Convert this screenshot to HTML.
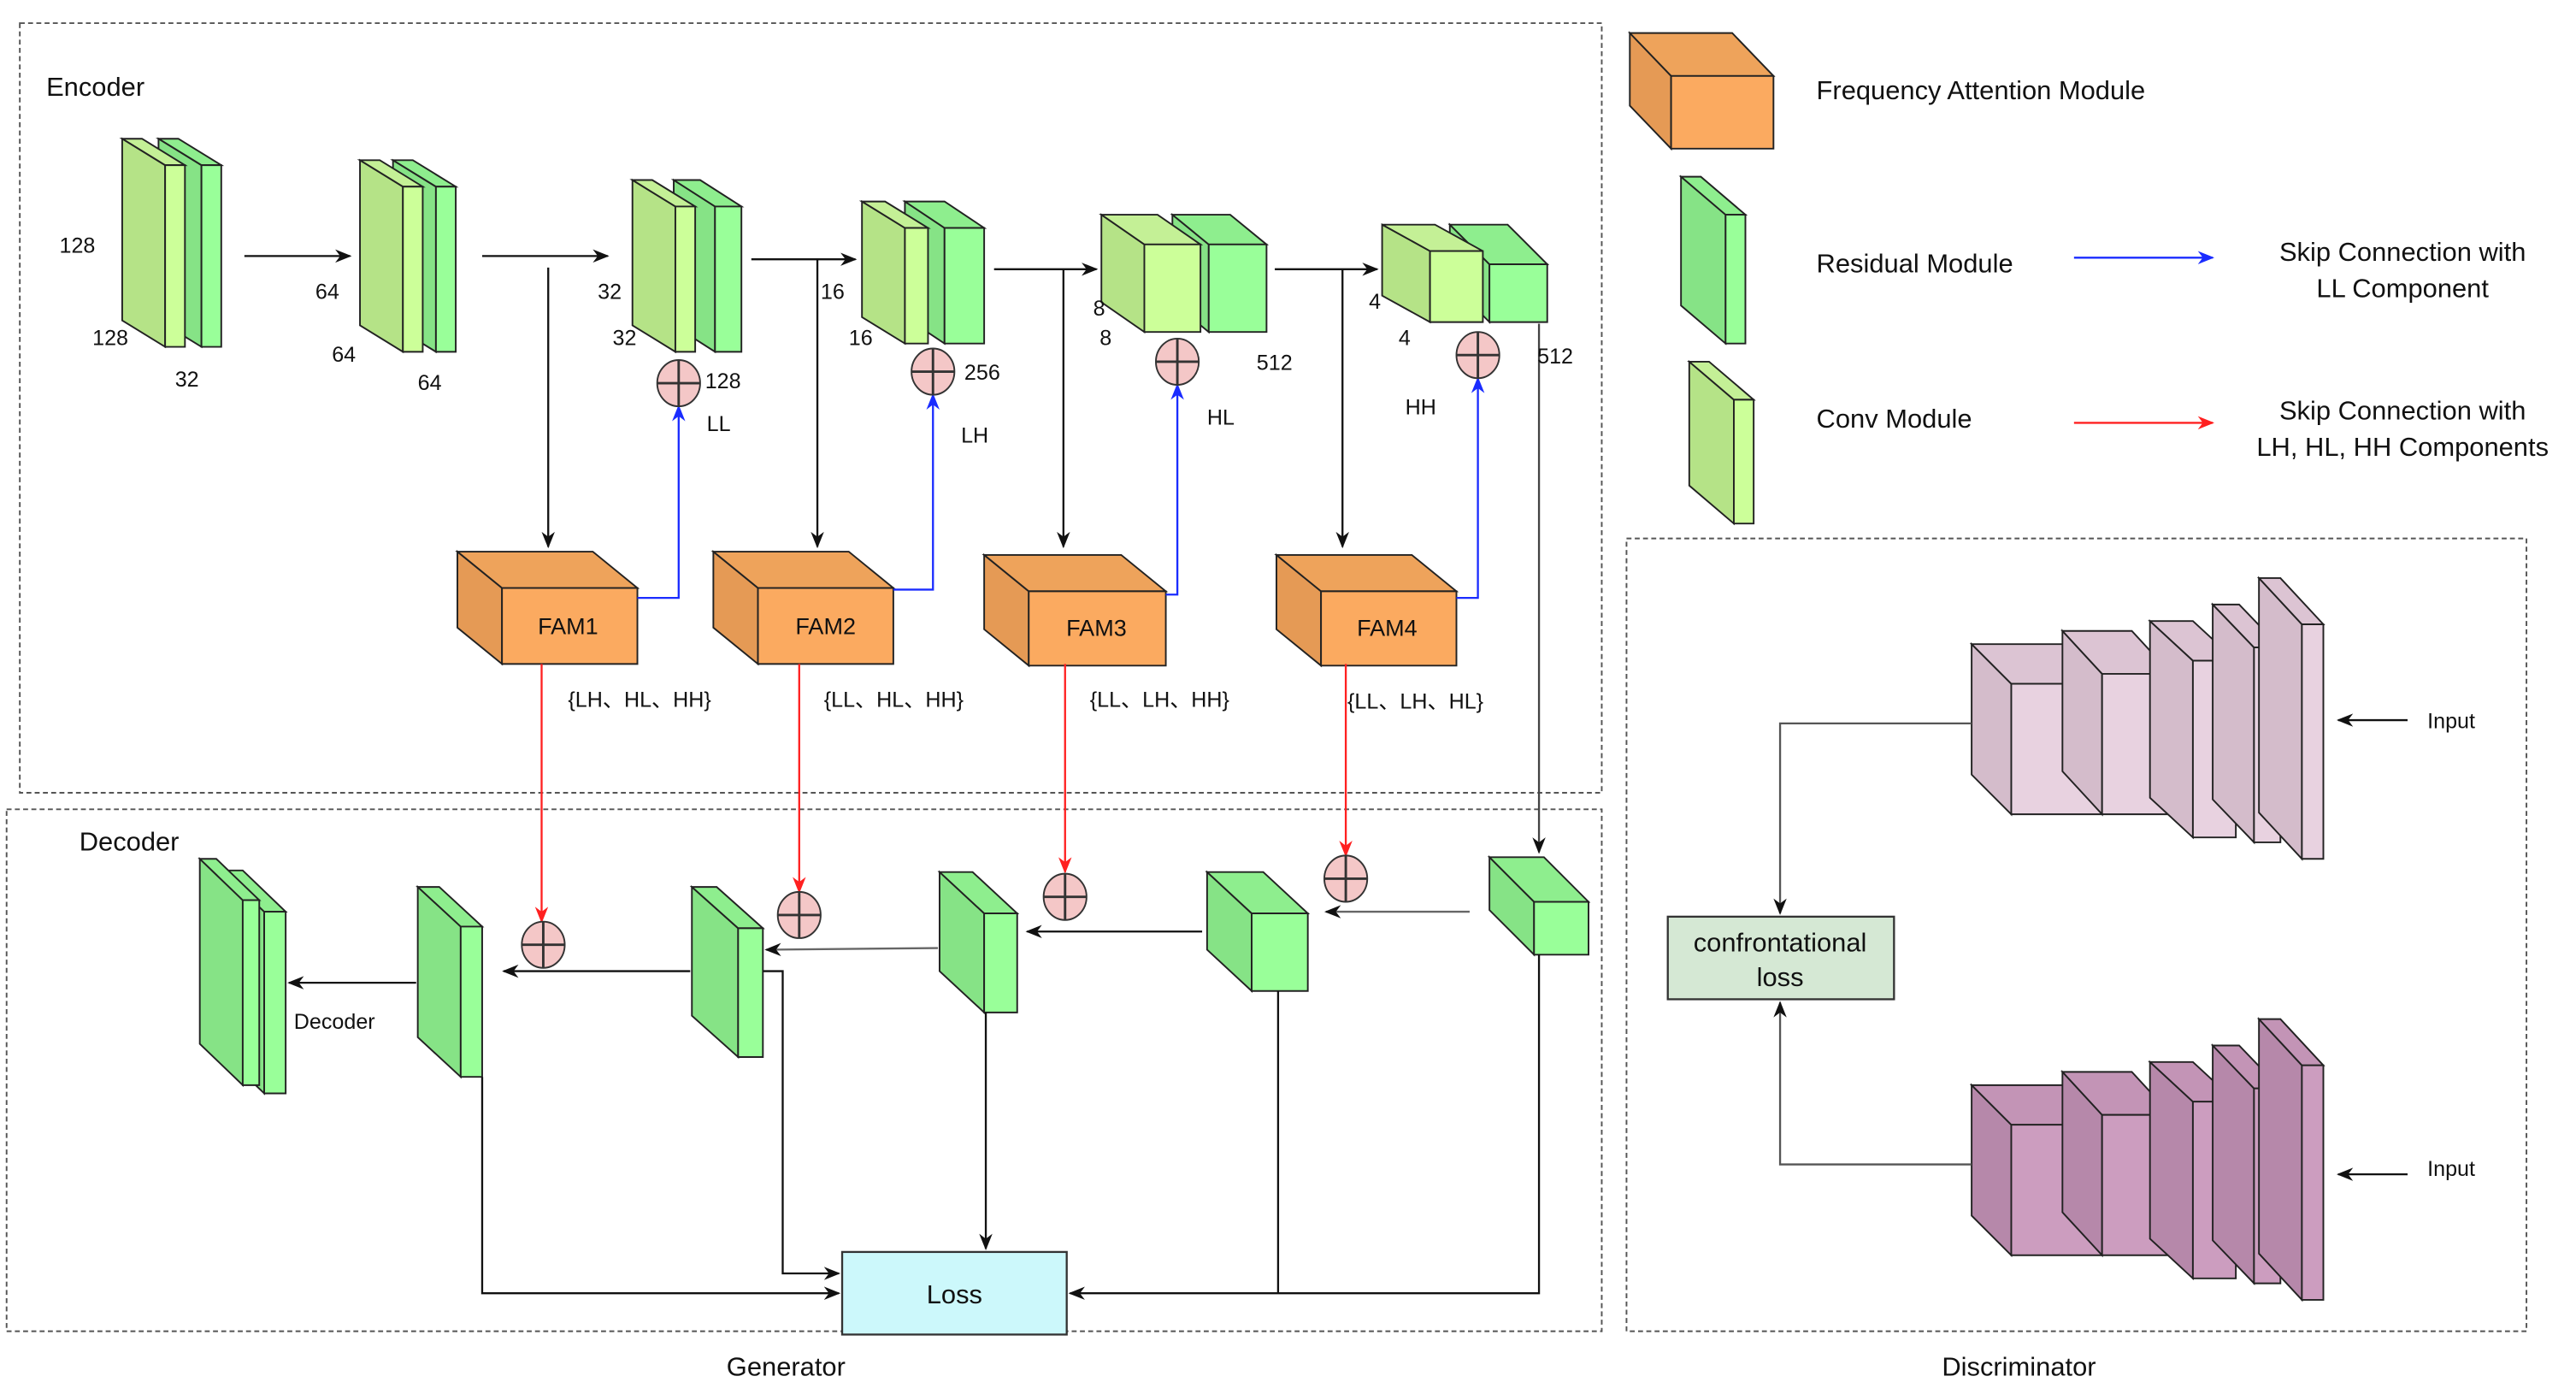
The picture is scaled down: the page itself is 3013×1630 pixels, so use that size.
<!DOCTYPE html>
<html><head><meta charset="utf-8"><style>
html,body{margin:0;padding:0;background:#fff;}
svg{display:block;}
text{font-family:"Liberation Sans",Arial,sans-serif;fill:#111;}
</style></head><body>
<svg id="s" width="3013" height="1630" viewBox="0 0 1560 844" preserveAspectRatio="none" xmlns="http://www.w3.org/2000/svg">
<defs>
<marker id="ak" markerWidth="10" markerHeight="10" refX="9" refY="5" orient="auto" markerUnits="userSpaceOnUse"><path d="M0,1 L10,5 L0,9 L3,5 Z" fill="#111"/></marker>
<marker id="ab" markerWidth="10" markerHeight="10" refX="9" refY="5" orient="auto" markerUnits="userSpaceOnUse"><path d="M0,1 L10,5 L0,9 L3,5 Z" fill="#1a2cff"/></marker>
<marker id="ar" markerWidth="10" markerHeight="10" refX="9" refY="5" orient="auto" markerUnits="userSpaceOnUse"><path d="M0,1 L10,5 L0,9 L3,5 Z" fill="#ff2020"/></marker>
</defs>
<g fill="none" stroke="#555" stroke-width="1" stroke-dasharray="3,2">
<rect x="12" y="14" width="958" height="466"/>
<rect x="4" y="490" width="966" height="316"/>
<rect x="985" y="326" width="545" height="480"/>
</g>
<g id="cubes"></g>
<g stroke="#111" stroke-width="1.2" fill="none">
<line x1="148" y1="155" x2="212" y2="155" marker-end="url(#ak)"/>
<line x1="292" y1="155" x2="368" y2="155" marker-end="url(#ak)"/>
<line x1="455" y1="157" x2="518" y2="157" marker-end="url(#ak)"/>
<line x1="602" y1="163" x2="664" y2="163" marker-end="url(#ak)"/>
<line x1="772" y1="163" x2="834" y2="163" marker-end="url(#ak)"/>
<line x1="332" y1="162" x2="332" y2="331" marker-end="url(#ak)"/>
<line x1="495" y1="157" x2="495" y2="331" marker-end="url(#ak)"/>
<line x1="644" y1="163" x2="644" y2="331" marker-end="url(#ak)"/>
<line x1="813" y1="163" x2="813" y2="331" marker-end="url(#ak)"/>
<line x1="932" y1="196" x2="932" y2="516" stroke="#444" marker-end="url(#ak)"/>
<line x1="890" y1="552" x2="803" y2="552" stroke="#666" marker-end="url(#ak)"/>
<line x1="728" y1="564" x2="622" y2="564" marker-end="url(#ak)"/>
<line x1="568" y1="574" x2="464" y2="575" stroke="#666" marker-end="url(#ak)"/>
<line x1="418" y1="588" x2="305" y2="588" marker-end="url(#ak)"/>
<line x1="252" y1="595" x2="175" y2="595" marker-end="url(#ak)"/>
<polyline points="292,652 292,783 508,783" marker-end="url(#ak)"/>
<polyline points="462,588 474,588 474,771 508,771" marker-end="url(#ak)"/>
<line x1="597" y1="613" x2="597" y2="756" marker-end="url(#ak)"/>
<line x1="774" y1="600" x2="774" y2="783"/>
<polyline points="932,578 932,783 648,783" marker-end="url(#ak)"/>
<polyline points="1194,438 1078,438 1078,553" stroke="#555" marker-end="url(#ak)"/>
<polyline points="1194,705 1078,705 1078,607" stroke="#555" marker-end="url(#ak)"/>
<line x1="1458" y1="436" x2="1416" y2="436" marker-end="url(#ak)"/>
<line x1="1458" y1="711" x2="1416" y2="711" marker-end="url(#ak)"/>
</g>
<g stroke="#1a2cff" stroke-width="1.2" fill="none">
<polyline points="386,362 411,362 411,246" marker-end="url(#ab)"/>
<polyline points="541,357 565,357 565,239" marker-end="url(#ab)"/>
<polyline points="706,360 713,360 713,233" marker-end="url(#ab)"/>
<polyline points="882,362 895,362 895,229" marker-end="url(#ab)"/>
<line x1="1256" y1="156" x2="1340" y2="156" marker-end="url(#ab)"/>
</g>
<g stroke="#ff2020" stroke-width="1.2" fill="none">
<line x1="328" y1="402" x2="328" y2="558" marker-end="url(#ar)"/>
<line x1="484" y1="402" x2="484" y2="540" marker-end="url(#ar)"/>
<line x1="645" y1="402" x2="645" y2="528" marker-end="url(#ar)"/>
<line x1="815" y1="402" x2="815" y2="518" marker-end="url(#ar)"/>
<line x1="1256" y1="256" x2="1340" y2="256" marker-end="url(#ar)"/>
</g>
<g id="plus"></g>
<rect x="510" y="758" width="136" height="50" fill="#ccf8fb" stroke="#333" stroke-width="1.2"/>
<text x="578" y="789" font-size="16" text-anchor="middle">Loss</text>
<rect x="1010" y="555" width="137" height="50" fill="#d5e8d4" stroke="#333" stroke-width="1.2"/>
<text x="1078" y="576" font-size="16" text-anchor="middle">confrontational</text>
<text x="1078" y="597" font-size="16" text-anchor="middle">loss</text>
<g font-size="14" text-anchor="middle">
<text x="344" y="384">FAM1</text><text x="500" y="384">FAM2</text><text x="664" y="385">FAM3</text><text x="840" y="385">FAM4</text>
</g>
<g font-size="13">
<text x="36" y="153">128</text><text x="56" y="209">128</text><text x="106" y="234">32</text>
<text x="191" y="181">64</text><text x="201" y="219">64</text><text x="253" y="236">64</text>
<text x="362" y="181">32</text><text x="371" y="209">32</text><text x="427" y="235">128</text><text x="428" y="261">LL</text>
<text x="497" y="181">16</text><text x="514" y="209">16</text><text x="584" y="230">256</text><text x="582" y="268">LH</text>
<text x="662" y="191">8</text><text x="666" y="209">8</text><text x="761" y="224">512</text><text x="731" y="257">HL</text>
<text x="829" y="187">4</text><text x="847" y="209">4</text><text x="931" y="220">512</text><text x="851" y="251">HH</text>
<text x="344" y="428">{LH、HL、HH}</text><text x="499" y="428">{LL、HL、HH}</text>
<text x="660" y="428">{LL、LH、HH}</text><text x="816" y="429">{LL、LH、HL}</text>
<text x="178" y="623">Decoder</text>
<text x="1470" y="441">Input</text><text x="1470" y="712">Input</text>
</g>
<g font-size="16">
<text x="28" y="58">Encoder</text><text x="48" y="515">Decoder</text>
<text x="440" y="833">Generator</text><text x="1176" y="833">Discriminator</text>
<text x="1100" y="60">Frequency Attention Module</text>
<text x="1100" y="165">Residual Module</text>
<text x="1100" y="259">Conv Module</text>
<text x="1455" y="158" text-anchor="middle">Skip Connection with</text>
<text x="1455" y="180" text-anchor="middle">LL Component</text>
<text x="1455" y="254" text-anchor="middle">Skip Connection with</text>
<text x="1455" y="276" text-anchor="middle">LH, HL, HH Components</text>
</g>
</svg>
<script>
var NS="http://www.w3.org/2000/svg";
function poly(g,pts,fill){var p=document.createElementNS(NS,"polygon");p.setAttribute("points",pts.map(function(a){return a.join(",")}).join(" "));p.setAttribute("fill",fill);p.setAttribute("stroke","#222");p.setAttribute("stroke-width","1");g.appendChild(p);}
function cube(x,y,w,h,dx,dy,front,side,top){var g=document.getElementById("cubes");
poly(g,[[x-dx,y-dy],[x,y],[x,y+h],[x-dx,y+h-dy]],side);
poly(g,[[x-dx,y-dy],[x+w-dx,y-dy],[x+w,y],[x,y]],top||side);
poly(g,[[x,y],[x+w,y],[x+w,y+h],[x,y+h]],front);}
var LG=["#ccff99","#b5e387","#c4f096"], G=["#99ff99","#86e386","#8eee8e"], O=["#fbaa60","#e59a55","#eea35b"];
function lg(x,y,w,h,dx,dy){cube(x,y,w,h,dx,dy,LG[0],LG[1],LG[2]);}
function gr(x,y,w,h,dx,dy){cube(x,y,w,h,dx,dy,G[0],G[1],G[2]);}
function fam(x,y,w,h){cube(x,y,w,h,27,22,O[0],O[1],O[2]);}
gr(122,100,12,110,26,16); lg(100,100,12,110,26,16);
gr(264,113,12,100,26,16); lg(244,113,12,100,26,16);
gr(433,125,16,88,25,16); lg(409,125,12,88,26,16);
gr(572,138,24,70,24,16); lg(548,138,14,70,26,16);
gr(732,148,35,53,22,18); lg(693,148,34,53,26,18);
gr(902,160,35,35,24,24); lg(866,152,32,43,29,16);
fam(304,356,82,46); fam(459,356,82,46); fam(623,358,83,45); fam(800,358,82,45);
gr(160,552,13,110,26,25); gr(147,545,10,112,26,25);
gr(279,561,13,91,26,24); gr(447,562,15,78,28,25); gr(596,553,20,60,27,25);
gr(758,553,34,47,27,25); gr(929,546,33,32,27,27);
cube(1012,46,62,44,25,26,O[0],O[1],O[2]);
gr(1045,130,12,78,27,23); lg(1050,242,12,75,27,23);
function disc(oy,f,s,t){cube(1218,414+oy,55,79,24,24,f,s,t);cube(1273,408+oy,42,85,24,26,f,s,t);cube(1328,400+oy,26,107,26,24,f,s,t);cube(1365,392+oy,16,118,25,26,f,s,t);cube(1394,378+oy,13,142,26,28,f,s,t);}
disc(0,"#e8d2e0","#d4bccb","#dcc4d3"); disc(267,"#cc9dbf","#b688aa","#c394b6");
var pg=document.getElementById("plus");
[[411,232],[565,225],[713,219],[895,215],[329,572],[484,554],[645,543],[815,532]].forEach(function(c){
var e=document.createElementNS(NS,"ellipse");e.setAttribute("cx",c[0]);e.setAttribute("cy",c[1]);e.setAttribute("rx",13);e.setAttribute("ry",14);e.setAttribute("fill","#f4c7c7");e.setAttribute("stroke","#333");pg.appendChild(e);
var l=document.createElementNS(NS,"path");l.setAttribute("d","M"+(c[0]-13)+","+c[1]+"h26M"+c[0]+","+(c[1]-14)+"v28");l.setAttribute("stroke","#333");l.setAttribute("stroke-width","1.5");pg.appendChild(l);});
</script>
</body></html>
